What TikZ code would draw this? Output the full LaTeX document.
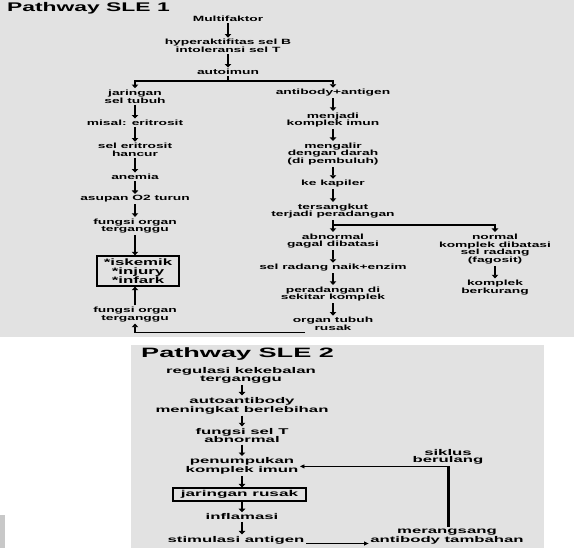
\documentclass[tikz,border=0pt]{standalone}
\usepackage{fontspec}
\usepackage{tikz}
\usetikzlibrary{positioning, arrows.meta}
\newfontfamily\topfont[FakeStretch=1.82]{Liberation Sans}
\newfontfamily\botfont[FakeStretch=2.0]{Liberation Sans}
\definecolor{panelgray}{RGB}{226,226,226}
\definecolor{edgegray}{RGB}{200,200,200}
\tikzset{
  toptext/.style={
    font=\topfont\bfseries\fontsize{7.6}{7.9}\selectfont,
    align=center, inner sep=1.5bp
  },
  bottext/.style={
    font=\botfont\bfseries\fontsize{8.4}{7.6}\selectfont,
    align=center, inner sep=1.5bp
  },
  toptitle/.style={font=\topfont\bfseries\fontsize{12.6}{13}\selectfont, inner sep=0pt},
  bottitle/.style={font=\botfont\bfseries\fontsize{13.6}{14}\selectfont, inner sep=0pt},
  topbox/.style={
    draw, line width=1.4bp, font=\topfont\bfseries\fontsize{9.3}{9}\selectfont,
    align=center, inner sep=0pt, minimum width=82bp, minimum height=30bp
  },
  botbox/.style={
    draw, line width=1.1bp, font=\botfont\bfseries\fontsize{8.6}{9}\selectfont,
    align=center, inner sep=0pt, minimum width=133bp, minimum height=13bp
  },
  arrow/.style={-{Triangle[length=3.5bp,width=6.5bp]}, line width=2.8bp},
  joinline/.style={line width=1.8bp},
  thinarrow/.style={-{Triangle[length=4.5bp,width=4bp]}, line width=0.9bp}
}

\begin{document}
\begin{tikzpicture}[x=1bp, y=-1bp]
  \fill[panelgray] (0,0) rectangle (574,337);
  \fill[panelgray] (131,345) rectangle (544,548);
  \fill[edgegray] (0,515) rectangle (5,548);
  \useasboundingbox (0,0) rectangle (574,548);

  % Pathway SLE 1
  \node[toptitle, anchor=west] (title1) at (7,8) {Pathway SLE 1};
  \node[toptext] (multi) at (228,19) {Multifaktor};
  \node[toptext] (hyper) at (228,46) {hyperaktifitas sel B\\intoleransi sel T};
  \node[toptext] (autoimun) at (228,72) {autoimun};
  \coordinate (split1) at (228,81);

  \node[toptext] (jaringan) at (135,96.5) {jaringan\\sel tubuh};
  \node[toptext] (misal) at (135,123) {misal: eritrosit};
  \node[toptext] (hancur) at (135,150) {sel eritrosit\\hancur};
  \node[toptext] (anemia) at (135,177) {anemia};
  \node[toptext] (asupan) at (135,199) {asupan O2 turun};
  \node[toptext] (fungsiA) at (135,226) {fungsi organ\\terganggu};
  \node[topbox] (iskemik) at (138,271) {*iskemik\\*injury\\*infark};
  \node[toptext] (fungsiB) at (135,314.5) {fungsi organ\\terganggu};

  \node[toptext] (antibody) at (333,93) {antibody+antigen};
  \node[toptext] (menjadi) at (333,120) {menjadi\\komplek imun};
  \node[toptext] (mengalir) at (333,154) {mengalir\\dengan darah\\(di pembuluh)};
  \node[toptext] (kapiler) at (333,184) {ke kapiler};
  \node[toptext] (tersangkut) at (333,211) {tersangkut\\terjadi peradangan};
  \coordinate (split2) at (333,225);
  \node[toptext] (abnormal) at (333,241) {abnormal\\gagal dibatasi};
  \node[toptext] (selradang) at (333,268) {sel radang naik+enzim};
  \node[toptext] (peradangan) at (333,294) {peradangan di\\sekitar komplek};
  \node[toptext] (organ) at (333,324) {organ tubuh\\rusak};
  \node[toptext] (normal) at (495,249) {normal\\komplek dibatasi\\sel radang\\(fagosit)};
  \node[toptext] (berkurang) at (495,287.5) {komplek\\berkurang};

  \draw[arrow] (multi) -- (hyper);
  \draw[arrow] (hyper) -- (autoimun);
  \draw[joinline] (autoimun) -- (split1);
  \draw[arrow] (split1) -| (jaringan);
  \draw[arrow] (split1) -| (antibody);
  \draw[arrow] (jaringan) -- (misal);
  \draw[arrow] (misal) -- (hancur);
  \draw[arrow] (hancur) -- (anemia);
  \draw[arrow] (anemia) -- (asupan);
  \draw[arrow] (asupan) -- (fungsiA);
  \draw[arrow] (fungsiA.south) -- (fungsiA.south |- iskemik.north);
  \draw[arrow] (fungsiB.north) -- (fungsiB.north |- iskemik.south);
  \draw[arrow] (antibody) -- (menjadi);
  \draw[arrow] (menjadi) -- (mengalir);
  \draw[arrow] (mengalir) -- (kapiler);
  \draw[arrow] (kapiler) -- (tersangkut);
  \draw[joinline] (tersangkut) -- (split2);
  \draw[arrow] (split2) -- (abnormal);
  \draw[arrow] (split2) -| (normal);
  \draw[arrow] (abnormal) -- (selradang);
  \draw[arrow] (selradang) -- (peradangan);
  \draw[arrow] (peradangan) -- (organ);
  \draw[arrow] (normal) -- (berkurang);
  \draw[arrow, line width=1.6bp] ([xshift=14bp]organ.south west) -| (fungsiB.south);

  % Pathway SLE 2
  \node[bottitle, anchor=west] (title2) at (141,354) {Pathway SLE 2};
  \node[bottext] (regulasi) at (241,375.5) {regulasi kekebalan\\terganggu};
  \node[bottext] (autoab) at (242,405.5) {autoantibody\\meningkat berlebihan};
  \node[bottext] (selT) at (242,435.5) {fungsi sel T\\abnormal};
  \node[bottext] (penumpukan) at (242,466) {penumpukan\\komplek imun};
  \node[botbox] (rusak) at (239.5,494.5) {jaringan rusak};
  \node[bottext] (inflamasi) at (242,517) {inflamasi};
  \node[bottext] (stimulasi) at (236,540) {stimulasi antigen};
  \node[bottext] (siklus) at (448,457) {siklus\\berulang};
  \node[bottext] (merangsang) at (447,536.5) {merangsang\\antibody tambahan};

  \draw[arrow] (regulasi.south -| autoab) -- (autoab);
  \draw[arrow] (autoab) -- (selT);
  \draw[arrow] (selT) -- (penumpukan);
  \draw[arrow] (penumpukan.south) -- (penumpukan.south |- rusak.north);
  \draw[arrow] (penumpukan.south |- rusak.south) -- (inflamasi);
  \draw[arrow] (inflamasi.south) -- (inflamasi.south |- stimulasi.north);
  \draw[joinline, line width=3bp] (siklus.south) -- (siklus.south |- merangsang.north);
  \draw[thinarrow] (siklus.south) -- (siklus.south -| penumpukan.east);
  \draw[thinarrow] ([yshift=-3.5bp]stimulasi.east) -- ([yshift=-3.5bp]stimulasi.east -| merangsang.west);
\end{tikzpicture}
\end{document}
